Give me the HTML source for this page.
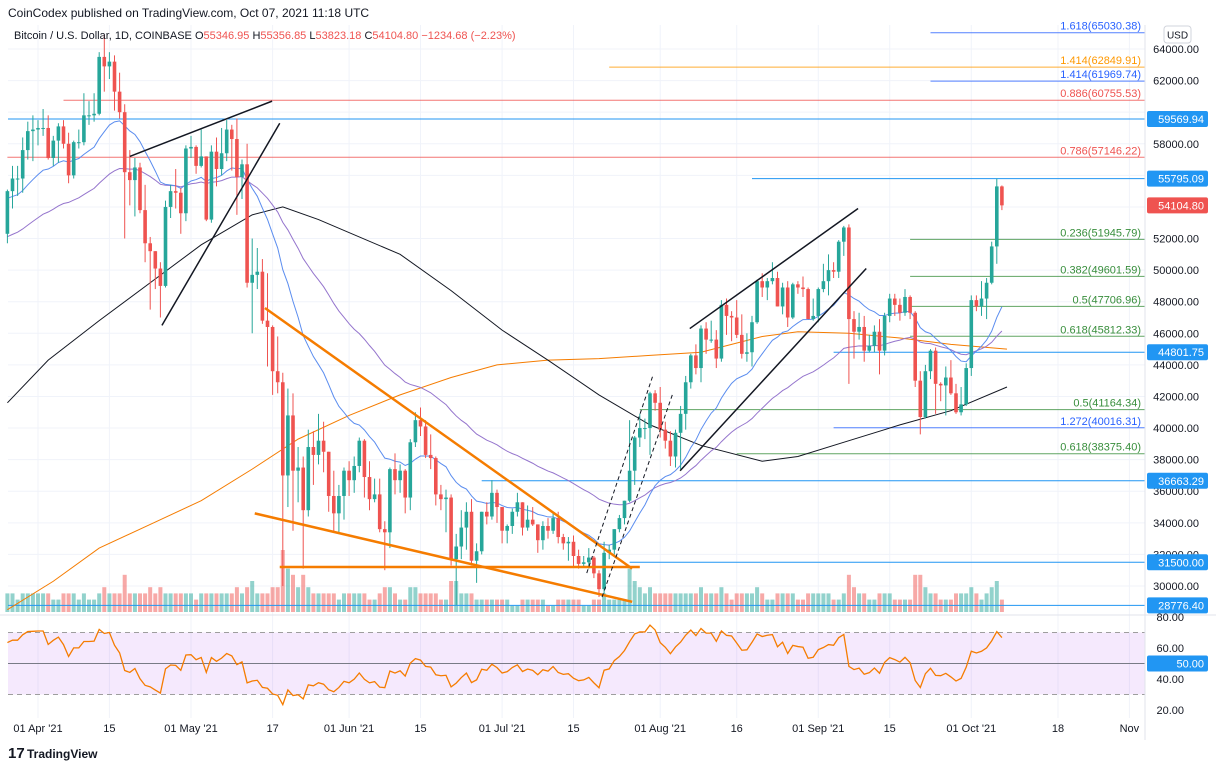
<!DOCTYPE html>
<html><head><meta charset="utf-8"><title>BTCUSD chart</title>
<style>
html,body{margin:0;padding:0;background:#fff;}
svg{display:block;font-family:"Liberation Sans",sans-serif;}
</style></head>
<body>
<svg id="chart" width="1216" height="768" viewBox="0 0 1216 768" xmlns="http://www.w3.org/2000/svg">
<text x="8" y="17" font-size="12" fill="#131722">CoinCodex published on TradingView.com, Oct 07, 2021 11:18 UTC</text>
<g id="grid"></g>
<g id="vol"></g>
<g id="hlines"></g>
<g id="mas"></g>
<g id="candles"></g>
<g id="draw"></g>
<g id="rsi"></g>
<g id="axes"></g>
<text x="14" y="39" font-size="11" fill="#131722">Bitcoin / U.S. Dollar, 1D, COINBASE  <tspan fill="#131722">O</tspan><tspan fill="#ef5350">55346.95</tspan> <tspan fill="#131722">H</tspan><tspan fill="#ef5350">55356.85</tspan> <tspan fill="#131722">L</tspan><tspan fill="#ef5350">53823.18</tspan> <tspan fill="#131722">C</tspan><tspan fill="#ef5350">54104.80</tspan> <tspan fill="#ef5350">−1234.68 (−2.23%)</tspan></text>
<g>
<text x="8" y="758" font-size="15" font-weight="bold" fill="#131722">17</text>
<text x="27" y="758" font-size="12" font-weight="bold" fill="#131722">TradingView</text>
</g>
<g>
<rect x="1164" y="26" width="27" height="17" rx="3" fill="#fff" stroke="#d1d4dc"/>
<text x="1177.5" y="38.5" font-size="10" text-anchor="middle" fill="#131722">USD</text>
</g>
</svg>
<script>
// Daily data starting 2021-03-26 (prices in thousands USD)
const firstOpen = 52.3;
const closes = [55.0,55.8,55.8,57.6,58.8,58.9,
59.0,59.0,57.1,58.2,59.1,58.0,56.0,58.1,58.1,59.8,59.8,59.9,63.5,62.9,63.2,61.3,60.0,56.2,55.7,56.5,53.8,51.7,51.2,50.1,49.0,54.0,55.0,54.9,53.6,57.7,
57.8,56.6,57.2,53.2,57.5,56.4,57.4,58.9,58.3,55.9,56.7,49.2,49.7,49.9,46.8,46.4,43.6,42.9,37.0,40.8,37.3,37.5,34.8,38.8,38.3,39.2,38.5,35.7,34.6,35.7,37.3,
36.7,37.6,39.2,36.9,35.5,35.8,33.6,33.4,37.4,36.7,37.3,35.6,39.1,40.5,40.1,38.3,38.1,35.8,35.5,35.6,31.7,32.5,33.7,34.7,31.6,32.2,34.7,34.4,35.9,35.0,
33.5,33.8,34.7,35.3,33.7,34.2,33.9,32.9,33.8,33.5,34.3,33.1,32.7,32.8,31.9,31.4,31.5,31.8,30.8,29.8,32.1,32.3,33.6,34.3,35.4,37.3,39.4,40.0,40.0,42.2,41.6,
39.9,39.2,38.2,39.7,40.9,42.9,44.6,43.8,46.3,45.6,45.6,44.4,47.8,47.1,47.0,45.9,44.7,44.8,46.7,49.3,48.9,49.3,49.5,47.7,48.9,47.0,49.1,48.9,48.8,46.9,47.1,
48.8,49.3,50.0,49.9,51.8,52.7,46.9,46.1,46.4,44.9,45.2,46.1,44.9,47.1,48.2,47.8,47.3,48.3,47.3,43.0,40.7,43.6,44.9,42.8,42.7,43.2,42.2,41.0,41.5,43.8,
48.1,47.7,48.2,49.2,51.5,55.3,54.1];
const highs = [55.1,56.6,56.6,58.4,59.4,59.8,
59.5,60.2,59.8,58.5,59.3,59.5,58.7,58.2,58.9,61.2,60.7,61.2,63.8,64.9,63.8,63.6,62.5,60.5,57.6,57.1,56.8,55.4,52.1,51.2,50.5,54.4,55.4,56.4,55.2,57.9,
58.5,57.9,58.9,57.2,57.9,58.4,59.0,59.5,59.2,59.6,57.0,58.0,52.0,51.4,50.7,49.8,46.5,45.8,43.5,42.5,42.2,38.8,38.2,39.9,39.8,40.9,40.4,38.5,37.3,36.4,37.5,
37.9,38.2,39.4,39.3,37.9,36.8,36.8,34.1,37.5,38.4,37.7,37.4,39.3,41.0,41.3,40.5,39.6,38.2,36.4,36.1,35.8,33.3,34.8,35.3,35.5,32.7,34.7,35.3,36.7,36.1,
35.0,33.9,34.9,35.9,35.3,35.1,35.0,33.9,34.1,34.3,34.6,34.7,33.3,33.1,33.2,32.3,31.9,32.4,31.9,31.0,32.8,32.6,33.6,34.5,35.4,40.5,39.5,40.9,40.6,42.3,42.4,
42.6,40.4,39.8,39.9,41.4,43.3,44.7,45.3,46.5,46.7,46.8,46.2,48.1,48.2,47.4,48.1,47.2,46.0,47.1,49.4,49.8,49.5,50.5,49.9,49.2,49.3,49.2,49.3,49.6,48.9,48.2,
48.9,50.4,51.0,50.5,51.9,52.8,52.9,47.4,47.3,47.1,45.9,46.5,46.9,47.3,48.5,48.5,48.2,48.8,48.4,47.4,43.6,44.0,45.0,45.1,42.9,43.9,44.3,42.8,42.6,44.1,
48.4,48.4,49.3,49.5,51.8,55.8,55.36];
const lows = [51.7,53.9,54.7,54.9,57.0,56.9,
57.9,58.5,57.0,56.6,56.8,57.7,55.5,55.8,57.7,57.9,59.2,59.4,59.8,61.3,62.1,60.1,59.6,52.0,54.1,53.4,53.6,50.5,47.5,48.8,47.0,48.9,53.3,53.9,52.3,53.1,
57.1,56.1,56.5,53.1,53.0,55.3,56.0,56.9,56.3,53.5,54.5,48.9,46.0,48.8,46.6,43.9,42.1,42.2,30.0,35.0,33.5,35.3,31.1,34.4,36.4,37.7,37.2,34.7,33.4,33.4,34.2,
35.7,35.9,37.2,35.6,34.8,35.3,33.4,31.0,32.4,35.8,35.9,34.6,34.8,38.8,39.5,38.1,37.4,35.1,34.8,33.4,31.3,28.8,31.7,32.3,31.3,30.2,32.0,33.9,34.2,34.0,
32.7,32.7,33.3,34.4,33.2,33.5,33.8,32.1,32.3,33.0,33.3,32.7,32.3,31.6,31.2,31.1,31.2,31.1,30.5,29.3,29.5,31.7,32.0,33.4,33.9,35.3,36.4,38.8,39.3,38.3,41.1,
39.4,38.7,37.6,37.5,37.4,39.9,42.5,43.4,42.9,44.7,45.4,43.8,44.2,45.9,45.5,45.7,44.4,44.2,43.9,46.6,48.3,48.1,49.1,47.7,47.2,46.4,46.9,48.5,48.3,46.9,46.8,
46.7,48.6,48.4,49.5,49.5,50.9,42.8,44.4,45.6,44.2,44.8,44.8,43.4,44.6,46.7,47.1,46.8,47.1,46.9,42.6,39.6,40.6,43.1,40.9,41.7,40.8,42.1,40.9,40.8,41.4,
43.3,47.4,47.1,46.9,49.1,50.4,53.8];
const volumes = [3,3,2,3,3,3,
3,3,3,2,2,3,3,3,2,3,2,2,3,4,3,3,3,6,3,3,3,3,4,3,4,3,3,3,3,3,
3,2,3,3,3,3,3,3,3,4,3,4,5,3,3,3,4,4,10,7,6,4,6,4,3,3,3,3,3,2,3,
3,3,3,3,2,2,3,4,4,3,2,2,4,4,3,3,3,3,2,2,5,5,3,3,3,2,2,2,2,2,
2,2,1,1,2,2,2,2,2,1,1,2,2,2,2,2,1,1,2,2,3,2,2,2,2,7,5,4,3,4,3,
3,3,3,3,3,3,3,3,4,3,3,3,4,3,2,3,3,3,3,4,3,2,2,3,3,3,3,2,2,3,3,
3,3,3,2,2,3,6,4,3,3,2,2,3,3,3,2,2,2,2,6,6,4,3,3,2,2,2,3,3,3,
4,3,2,3,4,5,2];
const blackMA = [[0,41.6],[8,44.3],[18,46.8],[28,49.2],[38,51.6],[48,53.5],[54,54.0],[61,53.2],[77,51.0],[87,48.7],[97,46.2],[106,44.3],[116,42.1],[126,40.2],[136,38.9],[148,37.9],[155,38.2],[165,39.2],[175,40.2],[185,41.1],[196,42.6]];
const orangeMA = [[0,28.5],[9,30.3],[18,32.4],[28,33.9],[38,35.4],[48,37.4],[57,39.3],[67,40.8],[77,42.1],[87,43.2],[96,44.0],[106,44.3],[116,44.4],[126,44.6],[136,44.8],[142,45.3],[148,45.8],[155,46.1],[165,46.0],[175,45.7],[185,45.3],[196,45.0]];
const priceTicks = [30,32,34,36,38,40,42,44,46,48,50,52,58,62,64];
const rsiTicks = [20,40,60,80];
const dateTickIdx = [6,20,36,52,67,81,97,111,128,143,159,173,189,206,220];
const dateTickLbl = ["01 Apr '21","15","01 May '21","17","01 Jun '21","15","01 Jul '21","15","01 Aug '21","16","01 Sep '21","15","01 Oct '21","18","Nov"];
const levels = [
 {p:65.03038,t:"1.618(65030.38)",c:"#2962ff",x0:181},{p:62.84991,t:"1.414(62849.91)",c:"#ff9800",x0:118},
 {p:61.96974,t:"1.414(61969.74)",c:"#2962ff",x0:181},{p:60.75553,t:"0.886(60755.53)",c:"#ef5350",x0:11},
 {p:57.14622,t:"0.786(57146.22)",c:"#ef5350",x0:0},{p:51.94579,t:"0.236(51945.79)",c:"#388e3c",x0:177},
 {p:49.60159,t:"0.382(49601.59)",c:"#388e3c",x0:177},{p:47.70696,t:"0.5(47706.96)",c:"#388e3c",x0:177},
 {p:45.81233,t:"0.618(45812.33)",c:"#388e3c",x0:177},{p:41.16434,t:"0.5(41164.34)",c:"#388e3c",x0:124},
 {p:40.01631,t:"1.272(40016.31)",c:"#2962ff",x0:162},{p:38.37540,t:"0.618(38375.40)",c:"#388e3c",x0:143}];
const boxLevels = [{p:59.56994,x0:0},{p:55.79509,x0:146},{p:44.80175,x0:162},{p:36.66329,x0:93},{p:31.5,x0:122},{p:28.7764,x0:0}];
const trendBlack = [[[24,57.2],[51.9,60.7]],[[30.3,46.5],[53.4,59.3]],[[133.8,46.3],[166.8,53.9]],[[131.9,37.3],[168.4,50.1]]];
const trendOrange = [[[50.5,47.6],[122.5,31.1]],[[48.5,34.6],[122.5,29.0]],[[53.4,31.2],[124,31.2]]];
const trendDashed = [[[113.6,30.82],[126.6,43.36]],[[116.6,29.30],[130.5,42.22]]];

const NS="http://www.w3.org/2000/svg";
const PL=8, PR=1145, PT=25, PB=612;
const X = i => 7.4 + i*5.1;
const Y = p => 586 - (p-30)*15.794;
const RY = r => 648 - (r-60)*1.55;
function mk(par,tag,attrs){const e=document.createElementNS(NS,tag);for(const k in attrs)e.setAttribute(k,attrs[k]);document.getElementById(par).appendChild(e);return e;}

// grid
priceTicks.concat([54,56,60]).forEach(p=>{const l=mk('grid','line',{x1:PL,x2:PR,y1:Y(p),y2:Y(p),stroke:'#f0f3fa'});

});
dateTickIdx.forEach(i=>{const l=mk('grid','line',{x1:X(i),x2:X(i),y1:PT,y2:718,stroke:'#f0f3fa'});

});

// volume
const opens = closes.map((c,i)=> i===0 ? firstOpen : closes[i-1]);
volumes.forEach((v,i)=>{const up=closes[i]>=opens[i];
 const r=mk('vol','rect',{x:X(i)-2,y:PB-v*6.2,width:4,height:v*6.2,fill:up?'rgba(38,166,154,0.5)':'rgba(239,83,80,0.5)'});
 
 });

// level lines
levels.forEach(L=>{const y=Y(L.p);
 const l=mk('hlines','line',{x1:X(L.x0),x2:PR,y1:y,y2:y,stroke:L.c,'stroke-width':1,'stroke-opacity':0.8});
 
 
 const t=mk('hlines','text',{x:1141,y:y-3,'font-size':11,'text-anchor':'end',fill:L.c});t.textContent=L.t;
 
 });
boxLevels.forEach(L=>{const y=Y(L.p);
 const l=mk('hlines','line',{x1:X(L.x0)<PL?PL:X(L.x0),x2:PR,y1:y,y2:y,stroke:'#2196f3','stroke-width':1});
 
 });

// moving averages
function ema(n,seed){let e=seed;return closes.map(c=>(e=e+(c-e)*2/(n+1)));}
function poly(id,pts,color,name,w){const el=mk('mas','polyline',{points:pts.map(p=>X(p[0])+','+Y(p[1])).join(' '),fill:'none',stroke:color,'stroke-width':w||1});
 
 }
poly('mas',orangeMA,'#f57c00','ma-200-orange');
poly('mas',blackMA,'#131722','ma-100-black');
poly('mas',ema(50,52).map((v,i)=>[i,v]),'#9575cd','ma-50-purple');
poly('mas',ema(20,54.5).map((v,i)=>[i,v]),'#5b8def','ma-20-blue');

// candles
closes.forEach((c,i)=>{const o=opens[i],up=c>=o,col=up?'#26a69a':'#ef5350';
 const w=mk('candles','line',{x1:X(i),x2:X(i),y1:Y(highs[i]),y2:Y(lows[i]),stroke:col,'stroke-width':1});
 
 
 const yt=Y(Math.max(o,c)),yb=Y(Math.min(o,c));
 const b=mk('candles','rect',{x:X(i)-1.8,y:yt,width:3.6,height:Math.max(1,yb-yt),fill:col});
 
 });

// trendlines
function seg(s,color,w,dash,name){const a={x1:X(s[0][0]),y1:Y(s[0][1]),x2:X(s[1][0]),y2:Y(s[1][1]),stroke:color,'stroke-width':w};if(dash)a['stroke-dasharray']=dash;
 const l=mk('draw','line',a);
 
 }
trendBlack.forEach(s=>seg(s,'#131722',1.5,null,'black-trendline'));
trendOrange.forEach(s=>seg(s,'#f57c00',2.5,null,'orange-trendline'));
trendDashed.forEach(s=>seg(s,'#131722',1,'4,3','dashed-trendline'));

// RSI pane
const sep=mk('rsi','line',{x1:0,x2:1216,y1:615,y2:615,stroke:'#e0e3eb'});


const band=mk('rsi','rect',{x:PL,y:RY(70),width:PR-PL,height:RY(30)-RY(70),fill:'rgba(155,39,240,0.1)'});


[70,30].forEach(v=>{const l=mk('rsi','line',{x1:PL,x2:PR,y1:RY(v),y2:RY(v),stroke:'#9e9e9e','stroke-dasharray':'5,4'});
 
 });
const mid=mk('rsi','line',{x1:PL,x2:PR,y1:RY(50),y2:RY(50),stroke:'#787b86'});


(function(){const ch=closes.map((c,i)=>c-opens[i]);let ag=0.75,al=0.55;const pts=[];
 for(let i=0;i<ch.length;i++){const g=Math.max(ch[i],0),l=Math.max(-ch[i],0);
  ag=(ag*13+g)/14;al=(al*13+l)/14;
  const r=al===0?100:100-100/(1+ag/al);pts.push(X(i)+','+RY(r));}
 const p=mk('rsi','polyline',{points:pts.join(' '),fill:'none',stroke:'#f57c00','stroke-width':1.3});
 
 })();

// axes
function txt(x,y,s,attrs,name){const t=mk('axes','text',Object.assign({x:x,y:y,'font-size':11,fill:'#131722'},attrs||{}));t.textContent=s;
 
 return t;}
const ax=mk('axes','line',{x1:PR,x2:PR,y1:PT,y2:740,stroke:'#e0e3eb'});


priceTicks.forEach(p=>txt(1199,Y(p)+4,(p*1000).toFixed(2),{'text-anchor':'end'},'price-tick'));
rsiTicks.forEach(r=>txt(1184,RY(r)+4,r.toFixed(2),{'text-anchor':'end'},'rsi-tick'));
dateTickIdx.forEach((i,k)=>txt(X(i),732,dateTickLbl[k],{'text-anchor':'middle'},'date-tick'));
function box(y,s,col,name){const r=mk('axes','rect',{x:1147,y:y-8,width:61,height:16,rx:2,fill:col});
 
 
 const t=txt(1204,y+4,s,{'text-anchor':'end',fill:'#fff'},name+'-text');}
boxLevels.forEach(L=>box(Y(L.p),(L.p*1000).toFixed(2),'#2196f3','level-price-box'));
box(Y(closes[closes.length-1]),'54104.80','#ef5350','last-price-box');
box(RY(50),'50.00','#2196f3','rsi-mid-box');
</script>
</body></html>
